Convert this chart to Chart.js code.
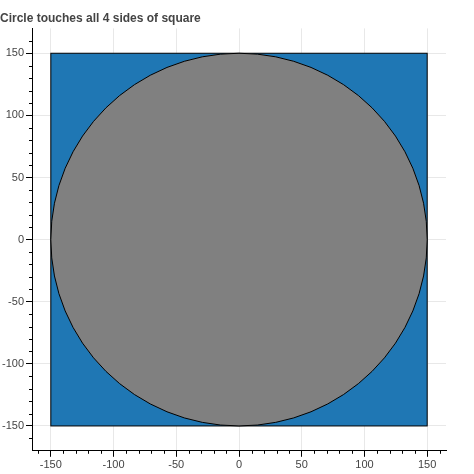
<!DOCTYPE html>
<html>
<head>
<meta charset="utf-8">
<script src="https://cdn.jsdelivr.net/npm/chart.js@4/dist/chart.umd.min.js"></script>
<style>
  body { margin: 0; background: #fff; }
  #wrap { width: 474px; height: 474px; }
</style>
</head>
<body>
<div id="wrap"><canvas id="c"></canvas></div>
<script>
// shapes: square centred at (squareX, squareY) with side squareSide, circle of radius circleR
const squareX = [0];
const squareY = [0];
const squareSide = [300];
const circleX = [0];
const circleY = [0];
const circleR = [150];
const xTicks = [-150, -100, -50, 0, 50, 100, 150];
const yTicks = [-150, -100, -50, 0, 50, 100, 150];

const shapes = {
    id: 'shapes',
    beforeDatasetsDraw(chart) {
        const { ctx, scales: { x, y } } = chart;
        ctx.save();
        // square
        const half = squareSide[0] / 2;
        const x0 = x.getPixelForValue(squareX[0] - half), x1 = x.getPixelForValue(squareX[0] + half);
        const y0 = y.getPixelForValue(squareY[0] + half), y1 = y.getPixelForValue(squareY[0] - half);
        ctx.fillStyle = '#1f77b4';
        ctx.fillRect(x0, y0, x1 - x0, y1 - y0);
        ctx.strokeStyle = '#000';
        ctx.lineWidth = 1;
        ctx.strokeRect(x0, y0, x1 - x0, y1 - y0);
        // circle
        const cx = x.getPixelForValue(circleX[0]), cy = y.getPixelForValue(circleY[0]);
        const rx = x.getPixelForValue(circleX[0] + circleR[0]) - cx;
        const ry = cy - y.getPixelForValue(circleY[0] + circleR[0]);
        ctx.beginPath();
        ctx.ellipse(cx, cy, rx, ry, 0, 0, Math.PI * 2);
        ctx.fillStyle = '#808080';
        ctx.fill();
        ctx.stroke();
        ctx.restore();
    },
    afterDraw(chart) {
        // minor ticks every 10 units
        const { ctx, chartArea: a, scales: { x, y } } = chart;
        ctx.save();
        ctx.strokeStyle = '#000';
        ctx.lineWidth = 1;
        ctx.beginPath();
        for (let v = -160; v <= 160; v += 10) {
            if (v % 50 === 0) continue;
            const px = Math.round(x.getPixelForValue(v)) + 0.5;
            if (px > a.left && px < a.right) { ctx.moveTo(px, a.bottom); ctx.lineTo(px, a.bottom + 3); }
            const py = Math.round(y.getPixelForValue(v)) + 0.5;
            if (py > a.top && py < a.bottom) { ctx.moveTo(a.left, py); ctx.lineTo(a.left - 3, py); }
        }
        ctx.stroke();
        ctx.restore();
    }
};

const axis = (ticks, min, max) => ({
    type: 'linear', min: min, max: max,
    afterBuildTicks: s => { s.ticks = ticks.map(v => ({ value: v })); },
    grid: { color: '#e8e8e8', tickColor: '#000', tickLength: 6 },
    border: { display: true, color: '#000' },
    ticks: { color: '#444', font: { family: 'Liberation Sans', size: 11 }, padding: 2, maxRotation: 0 }
});

new Chart(document.getElementById('c'), {
    type: 'scatter',
    data: { datasets: [{ data: [] }] },
    plugins: [shapes],
    options: {
        responsive: true,
        maintainAspectRatio: false,
        animation: false,
        layout: { padding: { left: 0, right: 28, top: 0, bottom: 0 } },
        plugins: {
            legend: { display: false },
            tooltip: { enabled: false },
            title: {
                display: true, text: 'Circle touches all 4 sides of square',
                align: 'start', color: '#444',
                font: { family: 'Liberation Sans', size: 12, weight: 'bold' },
                padding: { top: 11, bottom: 3 }
            }
        },
        scales: {
            x: axis(xTicks, -165, 165),
            y: axis(yTicks, -170, 170)
        }
    }
});
</script>
</body>
</html>
